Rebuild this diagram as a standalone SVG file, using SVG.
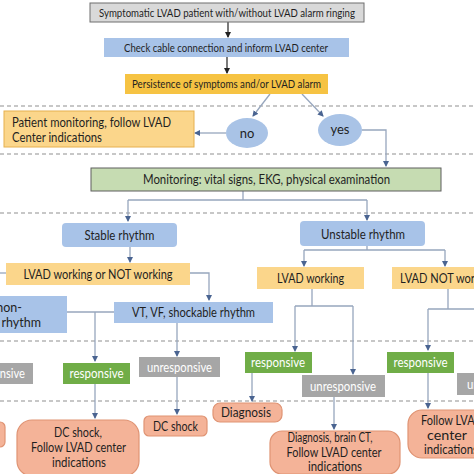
<svg xmlns="http://www.w3.org/2000/svg" width="474" height="474" viewBox="0 0 474 474">
<defs>
<marker id="ah" markerWidth="6" markerHeight="6" refX="5" refY="3" orient="auto" markerUnits="userSpaceOnUse">
<path d="M0,0 L6,3 L0,6 Z" fill="#4a6491"/>
</marker>
<marker id="ahk" markerWidth="6" markerHeight="6" refX="5" refY="3" orient="auto" markerUnits="userSpaceOnUse">
<path d="M0,0 L6,3 L0,6 Z" fill="#222"/>
</marker>
<style>
text{font-family:Lato,"Open Sans","Liberation Sans",sans-serif;fill:#1f1f1f;text-anchor:middle}
.s11{font-size:11.5px}
.s12{font-size:13px}
.m12{font-size:12.5px}
.s13{font-size:12.5px}
.w{fill:#ffffff}
.dash{stroke:#8f8f8f;stroke-width:1;stroke-dasharray:4 3;fill:none}
.c{stroke:#97a6bd;stroke-width:1.3;fill:none}
.ca{stroke:#97a6bd;stroke-width:1.3;fill:none;marker-end:url(#ah)}
.ck{stroke:#333;stroke-width:1.3;fill:none;marker-end:url(#ahk)}
.blue{fill:#a8c3e8}
.gold{fill:#fbd68b}
.salmon{fill:#f4b398;stroke:#df9373;stroke-width:1.2}
.green{fill:#70ad47}
.grey{fill:#a6a6a6}
</style>
</defs>
<rect width="474" height="474" fill="#ffffff"/>
<g id="separators">
<line class="dash" x1="0" y1="106" x2="474" y2="106"/>
<line class="dash" x1="0" y1="154" x2="474" y2="154"/>
<line class="dash" x1="0" y1="213" x2="474" y2="213"/>
<line class="dash" x1="0" y1="341" x2="474" y2="341"/>
<line class="dash" x1="0" y1="401" x2="474" y2="401"/>
</g>
<g id="connectors">
<path class="ck" d="M228,22 V37"/>
<path class="ck" d="M227,57 V73"/>
<path class="ca" d="M270,94 L253,116"/>
<path class="ca" d="M302,94 L323,116"/>
<path class="ca" d="M226,133 H195"/>
<path class="ca" d="M362,130 H386 V166"/>
<path class="c" d="M243,191 V200 M128,200 H367"/>
<path class="ca" d="M128,200 V221"/>
<path class="ca" d="M367,200 V220"/>
<path class="ca" d="M130,247 V262"/>
<path class="ca" d="M190,273 H209 V300"/>
<path class="c" d="M0,273 H6"/>
<path class="c" d="M367,246 V250 M304,250 H445"/>
<path class="ca" d="M304,250 V266"/>
<path class="ca" d="M445,250 V266"/>
<path class="c" d="M67,312 H114"/>
<path class="ca" d="M95,312 V361"/>
<path class="ca" d="M177,323 V356"/>
<path class="ca" d="M95,384 V418"/>
<path class="ca" d="M177,377 V414"/>
<path class="c" d="M312,289 V306 M295,306 H353"/>
<path class="ca" d="M295,306 V351"/>
<path class="ca" d="M353,306 V374"/>
<path class="ca" d="M252,373 V401"/>
<path class="ca" d="M334,397 V429"/>
<path class="c" d="M448,289 V309 M428,309 H474"/>
<path class="ca" d="M428,309 V350"/>
<path class="ca" d="M428,373 V408"/>
</g>
<g id="n-symptomatic">
<rect x="90" y="3" width="274" height="19" fill="#d9d9d9" stroke="#6e6e6e" stroke-width="1"/>
<text class="s11" x="227" y="16.5" textLength="256" lengthAdjust="spacingAndGlyphs">Symptomatic LVAD patient with/without LVAD alarm ringing</text>
</g>
<g id="n-check">
<rect x="104" y="38" width="245" height="19" class="blue"/>
<text class="s11" x="226" y="51.5" textLength="204" lengthAdjust="spacingAndGlyphs">Check cable connection and inform LVAD center</text>
</g>
<g id="n-persistence">
<rect x="125" y="74" width="203" height="20" fill="#f6c343"/>
<text class="s11" x="226.5" y="88" textLength="189" lengthAdjust="spacingAndGlyphs">Persistence of symptoms and/or LVAD alarm</text>
</g>
<g id="n-patient-monitoring">
<rect x="4" y="111" width="190" height="36" class="gold" stroke="#e6b04e" stroke-width="1"/>
<text class="s13" x="12" y="127" style="text-anchor:start" textLength="159" lengthAdjust="spacingAndGlyphs">Patient monitoring, follow LVAD</text>
<text class="s13" x="12" y="142" style="text-anchor:start" textLength="90" lengthAdjust="spacingAndGlyphs">Center indications</text>
</g>
<g id="n-no">
<ellipse cx="247" cy="133" rx="21" ry="15" fill="#a9c3e6"/>
<text class="s12" x="247" y="137.5">no</text>
</g>
<g id="n-yes">
<ellipse cx="340" cy="130" rx="22" ry="16" fill="#a9c3e6"/>
<text class="s12" x="340" y="134">yes</text>
</g>
<g id="n-monitoring">
<rect x="91" y="168" width="350" height="23" fill="#c6dcb2" stroke="#5f5f5f" stroke-width="1"/>
<text class="s12" x="266.5" y="184" textLength="247" lengthAdjust="spacingAndGlyphs">Monitoring: vital signs, EKG, physical examination</text>
</g>
<g id="n-stable">
<rect x="62" y="223" width="115" height="24" rx="4" class="blue"/>
<text class="s12" x="119.5" y="239.5" textLength="70" lengthAdjust="spacingAndGlyphs">Stable rhythm</text>
</g>
<g id="n-unstable">
<rect x="300" y="221" width="125" height="25" rx="4" class="blue"/>
<text class="s12" x="363" y="238.5" textLength="84" lengthAdjust="spacingAndGlyphs">Unstable rhythm</text>
</g>
<g id="n-lvad-either">
<rect x="6" y="263" width="184" height="22" class="gold"/>
<text class="s12" x="98" y="278.5" textLength="149" lengthAdjust="spacingAndGlyphs">LVAD working or NOT working</text>
</g>
<g id="n-lvad-working">
<rect x="257" y="267" width="107" height="22" class="gold"/>
<text class="s12" x="310.5" y="282.5" textLength="67" lengthAdjust="spacingAndGlyphs">LVAD working</text>
</g>
<g id="n-lvad-not-working">
<rect x="392" y="267" width="100" height="22" class="gold"/>
<text class="s12" x="400" y="282.5" style="text-anchor:start" textLength="95" lengthAdjust="spacingAndGlyphs">LVAD NOT working</text>
</g>
<g id="n-non-shockable">
<rect x="-60" y="296" width="127" height="37" class="blue"/>
<text class="m12" x="22" y="312" style="text-anchor:end">non-</text>
<text class="m12" x="41" y="326.5" style="text-anchor:end">shockable rhythm</text>
</g>
<g id="n-shockable">
<rect x="114" y="302" width="159" height="21" class="blue"/>
<text class="s12" x="193.5" y="316.5" textLength="123" lengthAdjust="spacingAndGlyphs">VT, VF, shockable rhythm</text>
</g>
<g id="n-unresp-left">
<rect x="-60" y="363" width="93" height="21" class="grey"/>
<text class="s12 w" x="25" y="377.5" style="text-anchor:end" textLength="65" lengthAdjust="spacingAndGlyphs">unresponsive</text>
</g>
<g id="n-resp-1">
<rect x="63" y="363" width="67" height="21" class="green"/>
<text class="s12 w" x="96.5" y="377.5" textLength="54" lengthAdjust="spacingAndGlyphs">responsive</text>
</g>
<g id="n-unresp-1">
<rect x="139" y="357" width="81" height="20" class="grey"/>
<text class="s12 w" x="179.5" y="371.5" textLength="65" lengthAdjust="spacingAndGlyphs">unresponsive</text>
</g>
<g id="n-resp-2">
<rect x="245" y="352" width="67" height="21" class="green"/>
<text class="s12 w" x="278" y="367" textLength="54" lengthAdjust="spacingAndGlyphs">responsive</text>
</g>
<g id="n-unresp-2">
<rect x="302" y="375" width="83" height="22" class="grey"/>
<text class="s12 w" x="343" y="390.5" textLength="66" lengthAdjust="spacingAndGlyphs">unresponsive</text>
</g>
<g id="n-resp-3">
<rect x="387" y="352" width="67" height="21" class="green"/>
<text class="s12 w" x="420.5" y="367" textLength="54" lengthAdjust="spacingAndGlyphs">responsive</text>
</g>
<g id="n-unresp-3">
<rect x="457" y="373" width="40" height="22" class="grey"/>
<text class="s12 w" x="467" y="388.5" style="text-anchor:start" textLength="66" lengthAdjust="spacingAndGlyphs">unresponsive</text>
</g>
<g id="n-left-sliver">
<rect x="-20" y="422" width="25" height="25" rx="5" class="salmon"/>
</g>
<g id="n-dc-follow">
<rect x="17" y="420" width="122" height="56" rx="15" class="salmon"/>
<text class="m12" x="78" y="436.5" textLength="48" lengthAdjust="spacingAndGlyphs">DC shock,</text>
<text class="m12" x="78.5" y="451.5" textLength="95" lengthAdjust="spacingAndGlyphs">Follow LVAD center</text>
<text class="m12" x="79" y="466.5" textLength="54" lengthAdjust="spacingAndGlyphs">indications</text>
</g>
<g id="n-dc-shock">
<rect x="144" y="416" width="63" height="20" rx="5" class="salmon"/>
<text class="s12" x="175.5" y="430.5" textLength="45" lengthAdjust="spacingAndGlyphs">DC shock</text>
</g>
<g id="n-diagnosis">
<rect x="213" y="403" width="69" height="19" rx="7" class="salmon"/>
<text class="s12" x="246" y="417" textLength="50" lengthAdjust="spacingAndGlyphs">Diagnosis</text>
</g>
<g id="n-diagnosis-ct">
<rect x="270" y="431" width="130" height="43" rx="12" class="salmon"/>
<text class="m12" x="330" y="441.5" textLength="85" lengthAdjust="spacingAndGlyphs">Diagnosis, brain CT,</text>
<text class="m12" x="334" y="456.5" textLength="95" lengthAdjust="spacingAndGlyphs">Follow LVAD center</text>
<text class="m12" x="335" y="471" textLength="54" lengthAdjust="spacingAndGlyphs">indications</text>
</g>
<g id="n-follow-right">
<rect x="408" y="410" width="100" height="48" rx="14" class="salmon"/>
<text class="m12" x="421" y="424.5" style="text-anchor:start" textLength="62" lengthAdjust="spacingAndGlyphs">Follow LVAD</text>
<text class="m12" x="447" y="439.5" textLength="40" lengthAdjust="spacingAndGlyphs">center</text>
<text class="m12" x="451" y="454" textLength="54" lengthAdjust="spacingAndGlyphs">indications</text>
</g>
</svg>
